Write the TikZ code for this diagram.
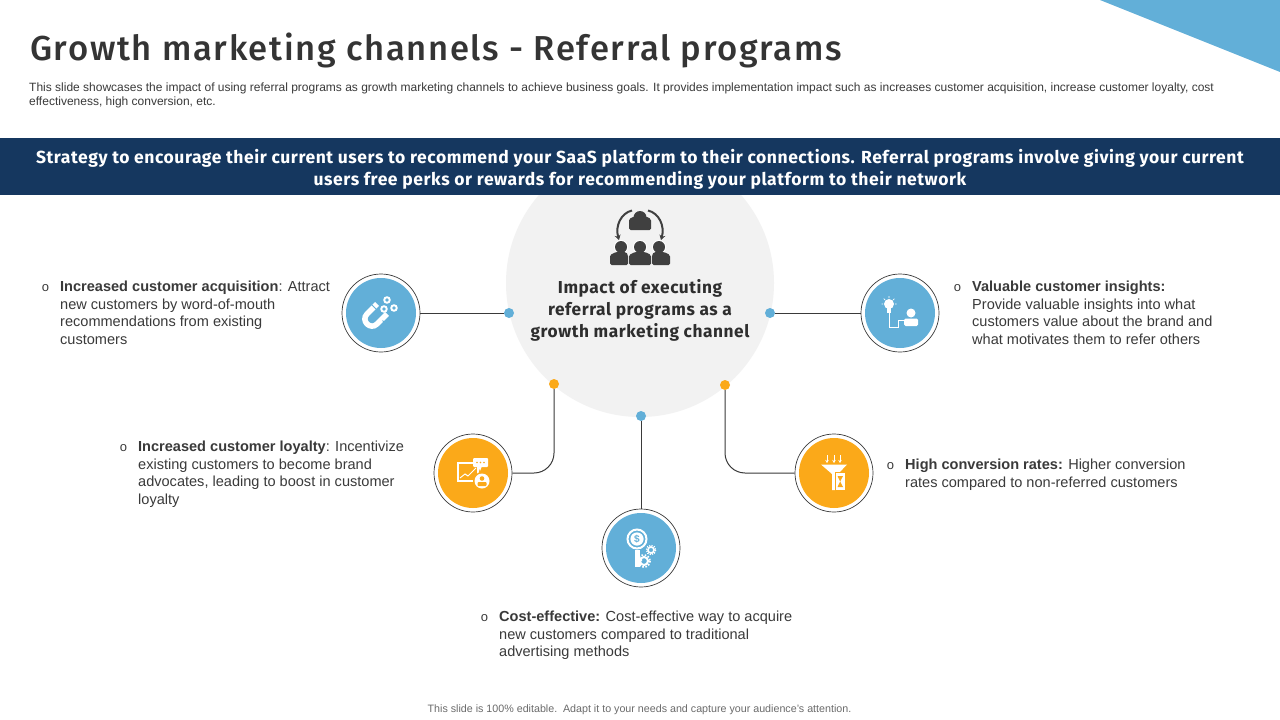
\documentclass[tikz,border=0pt]{standalone}
\usepackage{fontspec}
\setmainfont{Liberation Sans}
\newfontfamily\dinfont[LetterSpace=4.8]{Fira Sans Medium}
\newfontfamily\dinbfont[LetterSpace=3.2]{Fira Sans}
\usetikzlibrary{arrows.meta}
\definecolor{navy}{HTML}{15375F}
\definecolor{sky}{HTML}{62AFD8}
\definecolor{amber}{HTML}{FBA919}
\definecolor{pale}{HTML}{F2F2F2}
\definecolor{ink}{HTML}{3A3A3A}
\definecolor{iconink}{HTML}{404040}
\tikzset{
  x=1pt,y=-1pt,
  ring/.style={circle,draw=ink,line width=0.7pt,fill=white,minimum size=78pt,inner sep=0pt},
  disc/.style={circle,minimum size=70pt,inner sep=0pt},
  dot/.style={circle,minimum size=10pt,inner sep=0pt},
  link/.style={draw=ink,line width=1pt},
  body/.style={anchor=north west,inner sep=0pt,align=left,text=ink,font=\fontsize{14.55}{17.6}\selectfont},
  bullet/.style={inner sep=0pt,text=ink,font=\fontsize{13}{14}\selectfont},
  peoplefill/.style={fill=iconink,draw=none},
}
\begin{document}
\begin{tikzpicture}
\useasboundingbox (0,0) rectangle (1280,720);
\fill[white] (0,0) rectangle (1280,720);
\fill[sky] (1100,0) -- (1280,72) -- (1280,0) -- cycle;
% title block
\node[anchor=west,inner sep=0pt,text=ink!90!black,font=\fontsize{34.6}{40}\selectfont\dinfont] (title) at (30,50) {Growth marketing channels - Referral programs};
\node[anchor=north west,inner sep=0pt,align=left,text=ink,font=\fontsize{12}{14}\selectfont] (desc) at (29,82.5) {This slide showcases the impact of using referral programs as growth marketing channels to achieve business goals. It provides implementation impact such as increases customer acquisition, increase customer loyalty, cost\\effectiveness, high conversion, etc.};
% hub
\node[circle,fill=pale,minimum size=268pt,inner sep=0pt] (hub) at (640,283) {};
% banner
\fill[navy] (0,138) rectangle (1280,195);
\node[inner sep=0pt,align=center,text=white,font=\fontsize{17.5}{22}\selectfont\bfseries\dinbfont] (banner) at (640,169) {Strategy to encourage their current users to recommend your SaaS platform to their connections. Referral programs involve giving your current\\users free perks or rewards for recommending your platform to their network};
\node[inner sep=0pt,align=center,text=ink!80!black,font=\fontsize{17.3}{22}\selectfont\bfseries\dinbfont] (hubtext) at (640,310) {Impact of executing\\referral programs as a\\growth marketing channel};
% people icon
\fill[peoplefill] (640,217.5) circle (6.5);
\fill[peoplefill,rounded corners=1.5] (629,230) -- (629,219) -- (634,216.5) -- (646,216.5) -- (651,219) -- (651,230) -- cycle;
\foreach \px/\wa/\wb in {621/610/628,659/652/670,640/629/651}{
  \fill[white] (\px,247) circle (7);
  \fill[peoplefill] (\px,247) circle (6);
  \fill[peoplefill,rounded corners=1.5] (\wa,265) -- (\wa,255) -- (\px-5,252) -- (\px+5,252) -- (\wb,255) -- (\wb,265) -- cycle;
}
\draw[iconink,line width=2pt,-{Stealth[length=5pt,width=6pt]}] (632,210.5) .. controls (621,213) and (615,226) .. (619,240);
\draw[iconink,line width=2pt,-{Stealth[length=5pt,width=6pt]}] (648,210.5) .. controls (659,213) and (665,226) .. (661,240);
% rings
\node[ring] (c1) at (381,313) {};
\node[ring] (c2) at (900,313) {};
\node[ring] (c3) at (473,473) {};
\node[ring] (c4) at (834,473) {};
\node[ring] (c5) at (641,548) {};
\node[disc,fill=sky] at (c1) {};
\node[disc,fill=sky] at (c2) {};
\node[disc,fill=amber] at (c3) {};
\node[disc,fill=amber] at (c4) {};
\node[disc,fill=sky] at (c5) {};
% dots
\node[dot,fill=sky] (d1) at (509,313) {};
\node[dot,fill=sky] (d2) at (770,313) {};
\node[dot,fill=amber] (d3) at (554,384) {};
\node[dot,fill=amber] (d4) at (725,385) {};
\node[dot,fill=sky] (d5) at (641,416) {};
% connectors
\draw[link] (d1) -- (c1);
\draw[link] (d2) -- (c2);
\draw[link,rounded corners=20pt] (d3.south) |- (c3.east);
\draw[link,rounded corners=20pt] (d4.south) |- (c4.west);
\draw[link] (d5) -- (c5);
% magnet icon
\draw[white,line width=5.5pt] (377,304) -- (367,314) .. controls (360.4,320.6) and (370.4,330.6) .. (377,324) -- (387,314);
\draw[sky,line width=0.8pt] (371.5,304.5) -- (376.5,309.5) (382.5,320.5) -- (387.5,325.5);
\foreach \mx/\my in {387/300,384/309,394/308}{
  \fill[white] (\mx,\my) circle (3.8);
  \fill[sky] (\mx,\my) circle (1.8);
}
% insight icon
\fill[white] (889,304) circle (5);
\fill[white] (887,308) rectangle (891,313);
\draw[white,line width=0.7pt] (889,296) -- (889,298) (881.5,304) -- (883,304) (895,304) -- (896.5,304) (883.7,298.7) -- (885,300) (894.3,298.7) -- (893,300);
\draw[white,line width=1pt] (889,313) -- (889,327) -- (898,327) -- (898,320) -- (904,320);
\fill[white] (911,313) circle (4.5);
\fill[white,rounded corners=1.5] (904,326) -- (904,318.5) -- (918,318.5) -- (918,326) -- cycle;
% chart icon
\draw[white,line width=1.5pt] (458,463) rectangle (478,481);
\draw[white,line width=1pt] (460,478) -- (465,474) -- (468,476) -- (476,468);
\fill[white,rounded corners=1] (473,458) rectangle (488,467);
\fill[white] (478,466) -- (482,466) -- (480,471) -- cycle;
\foreach \bx in {477,480.5,484}{\fill[amber] (\bx,462.5) circle (0.9);}
\fill[amber] (482,481) circle (9);
\fill[white] (482,481) circle (7.5);
\fill[amber] (482,478.5) circle (2.3);
\fill[amber,rounded corners=1] (477.5,482) rectangle (486.5,486);
% funnel icon
\foreach \ax in {827,834,840}{
  \draw[white,line width=0.8pt,-{Stealth[length=3pt,width=3.5pt]}] (\ax,455) -- (\ax,463);
}
\fill[white] (821,464.5) -- (847,464.5) -- (838,474) -- (838,490) -- (832,490) -- (832,474) -- cycle;
\fill[amber] (834.5,471.5) rectangle (846.5,491.5);
\fill[white] (835.5,473) rectangle (845,490);
\fill[amber] (837.5,476) -- (843,476) -- (840.2,481.5) -- (843,487) -- (837.5,487) -- (840.2,481.5) -- cycle;
% cost icon
\draw[white,line width=2pt] (637,539) circle (9.5);
\fill[white] (637,539) circle (6.6);
\node[inner sep=0pt,text=sky,font=\fontsize{10}{10}\selectfont\bfseries] (dollar) at (637,539) {\$};
\fill[white] (635,549.5) rectangle (639.5,566.5);
\fill[white] (639,559) rectangle (642,561) (639,563) rectangle (641,565);
\draw[white,line width=1.6pt] (651,550) circle (3);
\draw[white,line width=1.4pt,dash pattern=on 1.2pt off 1.2pt] (651,550) circle (4.6);
\draw[white,line width=2pt] (644,561) circle (4);
\draw[white,line width=1.8pt,dash pattern=on 1.6pt off 1.6pt] (644,561) circle (6);
% texts
\node[bullet] (b1) at (45.5,288) {o};
\node[body] (t1) at (60,280.7) {\textbf{Increased customer acquisition}: Attract\\new customers by word-of-mouth\\recommendations from existing\\customers};
\node[bullet] (b2) at (123.5,448) {o};
\node[body] (t2) at (138,440.7) {\textbf{Increased customer loyalty}: Incentivize\\existing customers to become brand\\advocates, leading to boost in customer\\loyalty};
\node[bullet] (b3) at (957.5,288) {o};
\node[body] (t3) at (972,280.7) {\textbf{Valuable customer insights:}\\Provide valuable insights into what\\customers value about the brand and\\what motivates them to refer others};
\node[bullet] (b4) at (890.5,466.5) {o};
\node[body] (t4) at (905,458.7) {\textbf{High conversion rates:} Higher conversion\\rates compared to non-referred customers};
\node[bullet] (b5) at (484.5,618) {o};
\node[body] (t5) at (499,610.7) {\textbf{Cost-effective:} Cost-effective way to acquire\\new customers compared to traditional\\advertising methods};
\node[inner sep=0pt,text=ink!75!white,font=\fontsize{10.7}{12}\selectfont] (foot) at (639.5,710) {This slide is 100\% editable.\, Adapt it to your needs and capture your audience's attention.};
\end{tikzpicture}
\end{document}
